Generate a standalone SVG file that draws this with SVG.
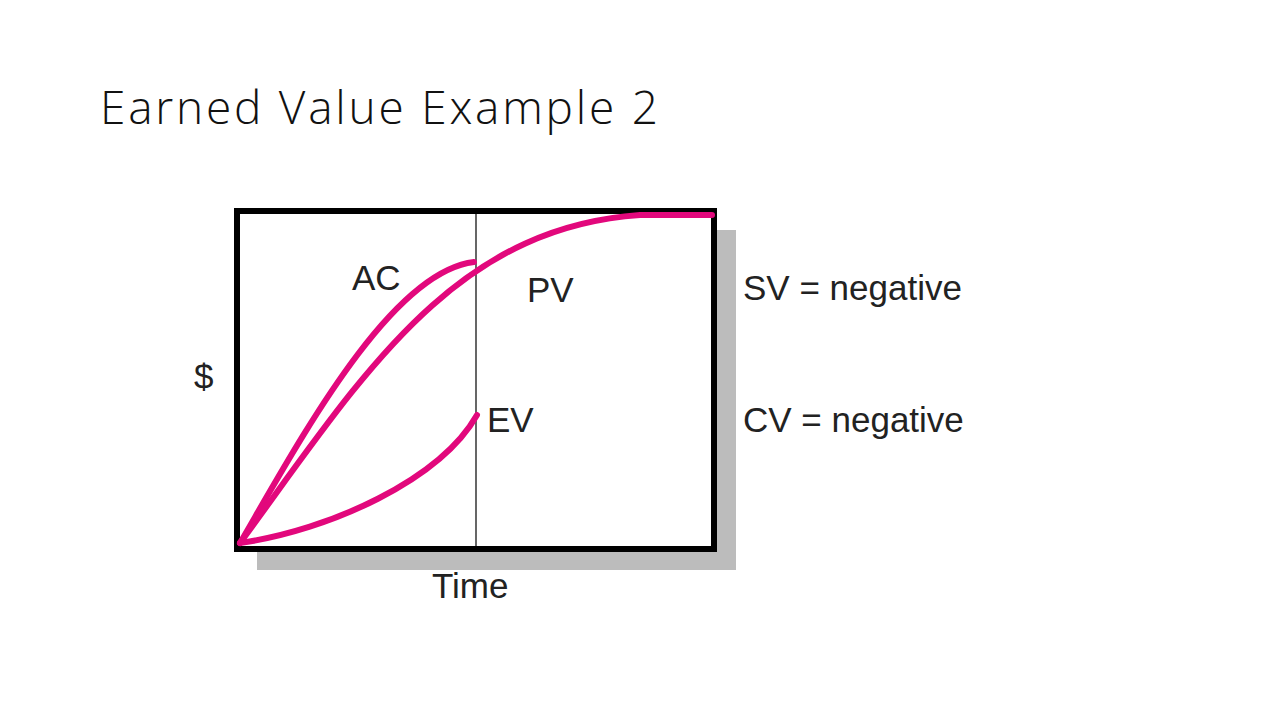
<svg xmlns="http://www.w3.org/2000/svg" width="1280" height="720" viewBox="0 0 1280 720">
<style>
.l{font-family:"Liberation Sans",Arial,sans-serif;font-size:35px;fill:#222}
.c{fill:none;stroke:#E2087C;stroke-width:6;stroke-linecap:round}
</style>
<rect width="1280" height="720" fill="#fff"/>
<text x="100" y="124" font-family="'Open Sans','Noto Sans',sans-serif" font-weight="300" font-size="46" textLength="558" fill="#111">Earned Value Example 2</text>
<g id="chart">
<rect x="714" y="230" width="22" height="340" fill="#bcbcbc"/>
<rect x="257" y="549" width="479" height="21" fill="#bcbcbc"/>
<rect x="237" y="211" width="477" height="338" fill="#fff" stroke="#000" stroke-width="6"/>
<line x1="476" y1="213" x2="476" y2="547" stroke="#000" stroke-width="1.2"/>
</g>
<g id="connectors">
<path id="ac" class="c" d="M240,543 C300,440 390,272 474,262"/>
<path id="pv" class="c" d="M240,543 C360,380 450,228 640,215 L712,215"/>
<path id="ev" class="c" d="M240,543 C330,530 440,480 477,415"/>
</g>
<g id="labels">
<text class="l" x="352" y="290">AC</text>
<text class="l" x="527" y="302">PV</text>
<text class="l" x="194" y="389">$</text>
<text class="l" x="487" y="432">EV</text>
<text class="l" x="743" y="300">SV = negative</text>
<text class="l" x="743" y="432">CV = negative</text>
<text class="l" x="432" y="598">Time</text>
</g>
</svg>
